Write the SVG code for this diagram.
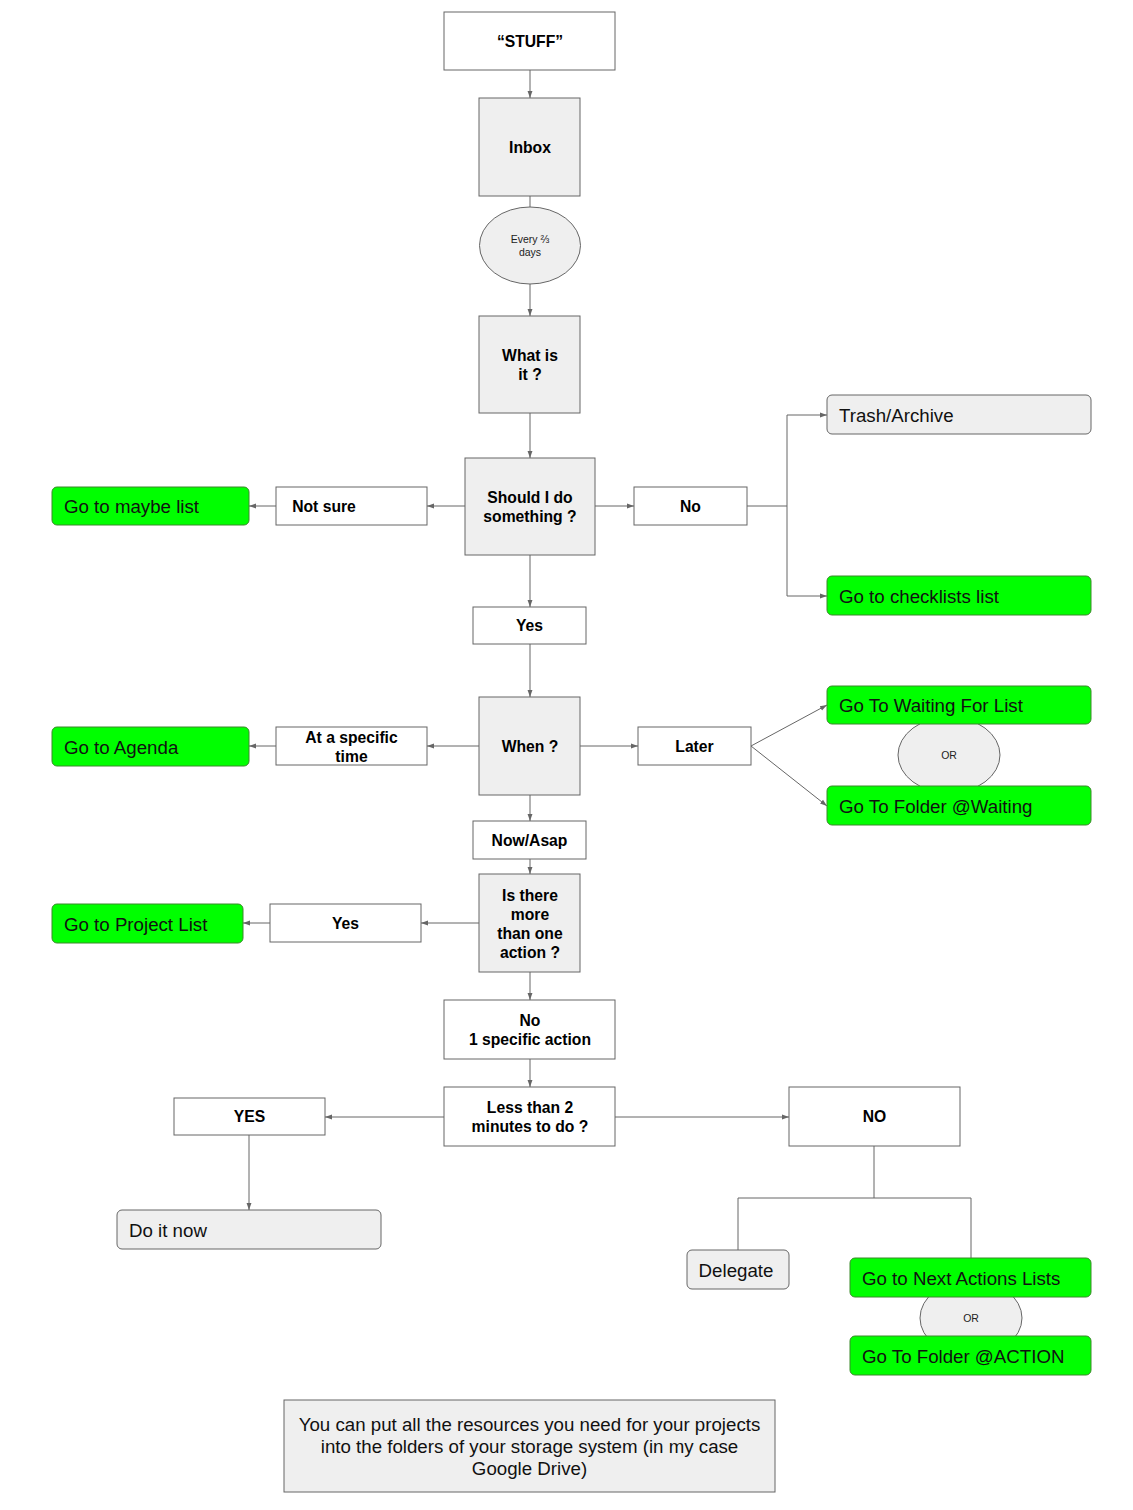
<svg xmlns="http://www.w3.org/2000/svg" width="1133" height="1510" viewBox="0 0 1133 1510">
<defs>
<marker id="arr" viewBox="0 0 10 10" refX="10" refY="5" markerWidth="7" markerHeight="7" markerUnits="userSpaceOnUse" orient="auto">
<path d="M0,1.5 L10,5 L0,8.5 z" fill="#666"/>
</marker>
<style>
.box{fill:#fff;stroke:#666;stroke-width:1}
.gray{fill:#efefef;stroke:#666;stroke-width:1}
.green{fill:#00ff00;stroke:#3a8a2a;stroke-width:1}
.b{font-family:"Liberation Sans",Arial,sans-serif;font-weight:bold;font-size:15.7px;fill:#000;text-anchor:middle}
.r{font-family:"Liberation Sans",Arial,sans-serif;font-size:18.7px;fill:#111}
.s{font-family:"Liberation Sans",Arial,sans-serif;font-size:10.5px;fill:#222;text-anchor:middle}
.c{fill:none;stroke:#666;stroke-width:1}
</style>
</defs>
<rect width="1133" height="1510" fill="#fff"/>
<g id="connectors">
<line class="c" x1="530" y1="70" x2="530" y2="98" marker-end="url(#arr)"/>
<line class="c" x1="530" y1="196" x2="530" y2="207"/>
<line class="c" x1="530" y1="284" x2="530" y2="316" marker-end="url(#arr)"/>
<line class="c" x1="530" y1="413" x2="530" y2="458" marker-end="url(#arr)"/>
<line class="c" x1="465" y1="506" x2="427" y2="506" marker-end="url(#arr)"/>
<line class="c" x1="276" y1="506" x2="249" y2="506" marker-end="url(#arr)"/>
<line class="c" x1="595" y1="506" x2="634" y2="506" marker-end="url(#arr)"/>
<polyline class="c" points="747,506 787,506 787,415 827,415" marker-end="url(#arr)"/>
<polyline class="c" points="787,506 787,596 827,596" marker-end="url(#arr)"/>
<line class="c" x1="530" y1="555" x2="530" y2="607" marker-end="url(#arr)"/>
<line class="c" x1="530" y1="644" x2="530" y2="697" marker-end="url(#arr)"/>
<line class="c" x1="479" y1="746" x2="427" y2="746" marker-end="url(#arr)"/>
<line class="c" x1="276" y1="746" x2="249" y2="746" marker-end="url(#arr)"/>
<line class="c" x1="580" y1="746" x2="638" y2="746" marker-end="url(#arr)"/>
<line class="c" x1="751" y1="746" x2="827" y2="705" marker-end="url(#arr)"/>
<line class="c" x1="751" y1="746" x2="827" y2="806" marker-end="url(#arr)"/>
<line class="c" x1="530" y1="795" x2="530" y2="821" marker-end="url(#arr)"/>
<line class="c" x1="530" y1="859" x2="530" y2="874" marker-end="url(#arr)"/>
<line class="c" x1="479" y1="923" x2="421" y2="923" marker-end="url(#arr)"/>
<line class="c" x1="270" y1="923" x2="243" y2="923" marker-end="url(#arr)"/>
<line class="c" x1="530" y1="972" x2="530" y2="1000" marker-end="url(#arr)"/>
<line class="c" x1="530" y1="1059" x2="530" y2="1087" marker-end="url(#arr)"/>
<line class="c" x1="444" y1="1117" x2="325" y2="1117" marker-end="url(#arr)"/>
<line class="c" x1="615" y1="1117" x2="789" y2="1117" marker-end="url(#arr)"/>
<line class="c" x1="249" y1="1135" x2="249" y2="1210" marker-end="url(#arr)"/>
<polyline class="c" points="874,1146 874,1198"/>
<polyline class="c" points="738,1250 738,1198 971,1198 971,1258"/>
</g>
<g id="stuff"><rect class="box" x="444" y="12" width="171" height="58"/><text class="b" x="530" y="47">“STUFF”</text></g>
<g id="inbox"><rect class="gray" x="479" y="98" width="101" height="98"/><text class="b" x="530" y="153">Inbox</text></g>
<g id="every"><ellipse class="gray" cx="530" cy="245.5" rx="50.5" ry="38.5"/><text class="s" x="530" y="243">Every ⅔</text><text class="s" x="530" y="256">days</text></g>
<g id="whatis"><rect class="gray" x="479" y="316" width="101" height="97"/><text class="b" x="530" y="361">What is</text><text class="b" x="530" y="380">it ?</text></g>
<g id="should"><rect class="gray" x="465" y="458" width="130" height="97"/><text class="b" x="530" y="503">Should I do</text><text class="b" x="530" y="522">something ?</text></g>
<g id="notsure"><rect class="box" x="276" y="487" width="151" height="38"/><text class="b" x="324" y="512">Not sure</text></g>
<g id="maybe"><rect class="green" x="52" y="487" width="197" height="38" rx="5"/><text class="r" x="64" y="513">Go to maybe list</text></g>
<g id="no"><rect class="box" x="634" y="487" width="113" height="38"/><text class="b" x="690.5" y="512">No</text></g>
<g id="trash"><rect class="gray" x="827" y="395" width="264" height="39" rx="5"/><text class="r" x="839" y="422">Trash/Archive</text></g>
<g id="checklists"><rect class="green" x="827" y="576" width="264" height="39" rx="5"/><text class="r" x="839" y="603">Go to checklists list</text></g>
<g id="yes1"><rect class="box" x="473" y="607" width="113" height="37"/><text class="b" x="529.5" y="631">Yes</text></g>
<g id="when"><rect class="gray" x="479" y="697" width="101" height="98"/><text class="b" x="530" y="752">When ?</text></g>
<g id="specific"><rect class="box" x="276" y="727" width="151" height="38"/><text class="b" x="351.5" y="743">At a specific</text><text class="b" x="351.5" y="762">time</text></g>
<g id="agenda"><rect class="green" x="52" y="727" width="197" height="39" rx="5"/><text class="r" x="64" y="754">Go to Agenda</text></g>
<g id="later"><rect class="box" x="638" y="727" width="113" height="38"/><text class="b" x="694.5" y="752">Later</text></g>
<g id="or1"><ellipse class="gray" cx="949" cy="755" rx="51" ry="38"/><text class="s" x="949" y="759">OR</text></g>
<g id="waitinglist"><rect class="green" x="827" y="686" width="264" height="38" rx="5"/><text class="r" x="839" y="712">Go To Waiting For List</text></g>
<g id="waitingfolder"><rect class="green" x="827" y="786" width="264" height="39" rx="5"/><text class="r" x="839" y="813">Go To Folder @Waiting</text></g>
<g id="nowasap"><rect class="box" x="473" y="821" width="113" height="38"/><text class="b" x="529.5" y="846">Now/Asap</text></g>
<g id="morethanone"><rect class="gray" x="479" y="874" width="101" height="98"/><text class="b" x="530" y="901">Is there</text><text class="b" x="530" y="920">more</text><text class="b" x="530" y="939">than one</text><text class="b" x="530" y="958">action ?</text></g>
<g id="yes2"><rect class="box" x="270" y="904" width="151" height="38"/><text class="b" x="345.5" y="929">Yes</text></g>
<g id="project"><rect class="green" x="52" y="904" width="191" height="39" rx="5"/><text class="r" x="64" y="931">Go to Project List</text></g>
<g id="no1action"><rect class="box" x="444" y="1000" width="171" height="59"/><text class="b" x="530" y="1026">No</text><text class="b" x="530" y="1045">1 specific action</text></g>
<g id="lessthan2"><rect class="box" x="444" y="1087" width="171" height="59"/><text class="b" x="530" y="1113">Less than 2</text><text class="b" x="530" y="1132">minutes to do ?</text></g>
<g id="yes3"><rect class="box" x="174" y="1098" width="151" height="37"/><text class="b" x="249.5" y="1122">YES</text></g>
<g id="doitnow"><rect class="gray" x="117" y="1210" width="264" height="39" rx="5"/><text class="r" x="129" y="1237">Do it now</text></g>
<g id="no2"><rect class="box" x="789" y="1087" width="171" height="59"/><text class="b" x="874.5" y="1122">NO</text></g>
<g id="delegate"><rect class="gray" x="687" y="1250" width="102" height="39" rx="5"/><text class="r" x="736" y="1277" text-anchor="middle">Delegate</text></g>
<g id="or2"><ellipse class="gray" cx="971" cy="1318" rx="51" ry="38"/><text class="s" x="971" y="1322">OR</text></g>
<g id="nextactions"><rect class="green" x="850" y="1258" width="241" height="39" rx="5"/><text class="r" x="862" y="1285">Go to Next Actions Lists</text></g>
<g id="actionfolder"><rect class="green" x="850" y="1336" width="241" height="39" rx="5"/><text class="r" x="862" y="1363">Go To Folder @ACTION</text></g>
<g id="note"><rect class="gray" x="284" y="1400" width="491" height="92"/><text class="r" x="529.5" y="1431" text-anchor="middle">You can put all the resources you need for your projects</text><text class="r" x="529.5" y="1453" text-anchor="middle">into the folders of your storage system (in my case</text><text class="r" x="529.5" y="1475" text-anchor="middle">Google Drive)</text></g>
</svg>
